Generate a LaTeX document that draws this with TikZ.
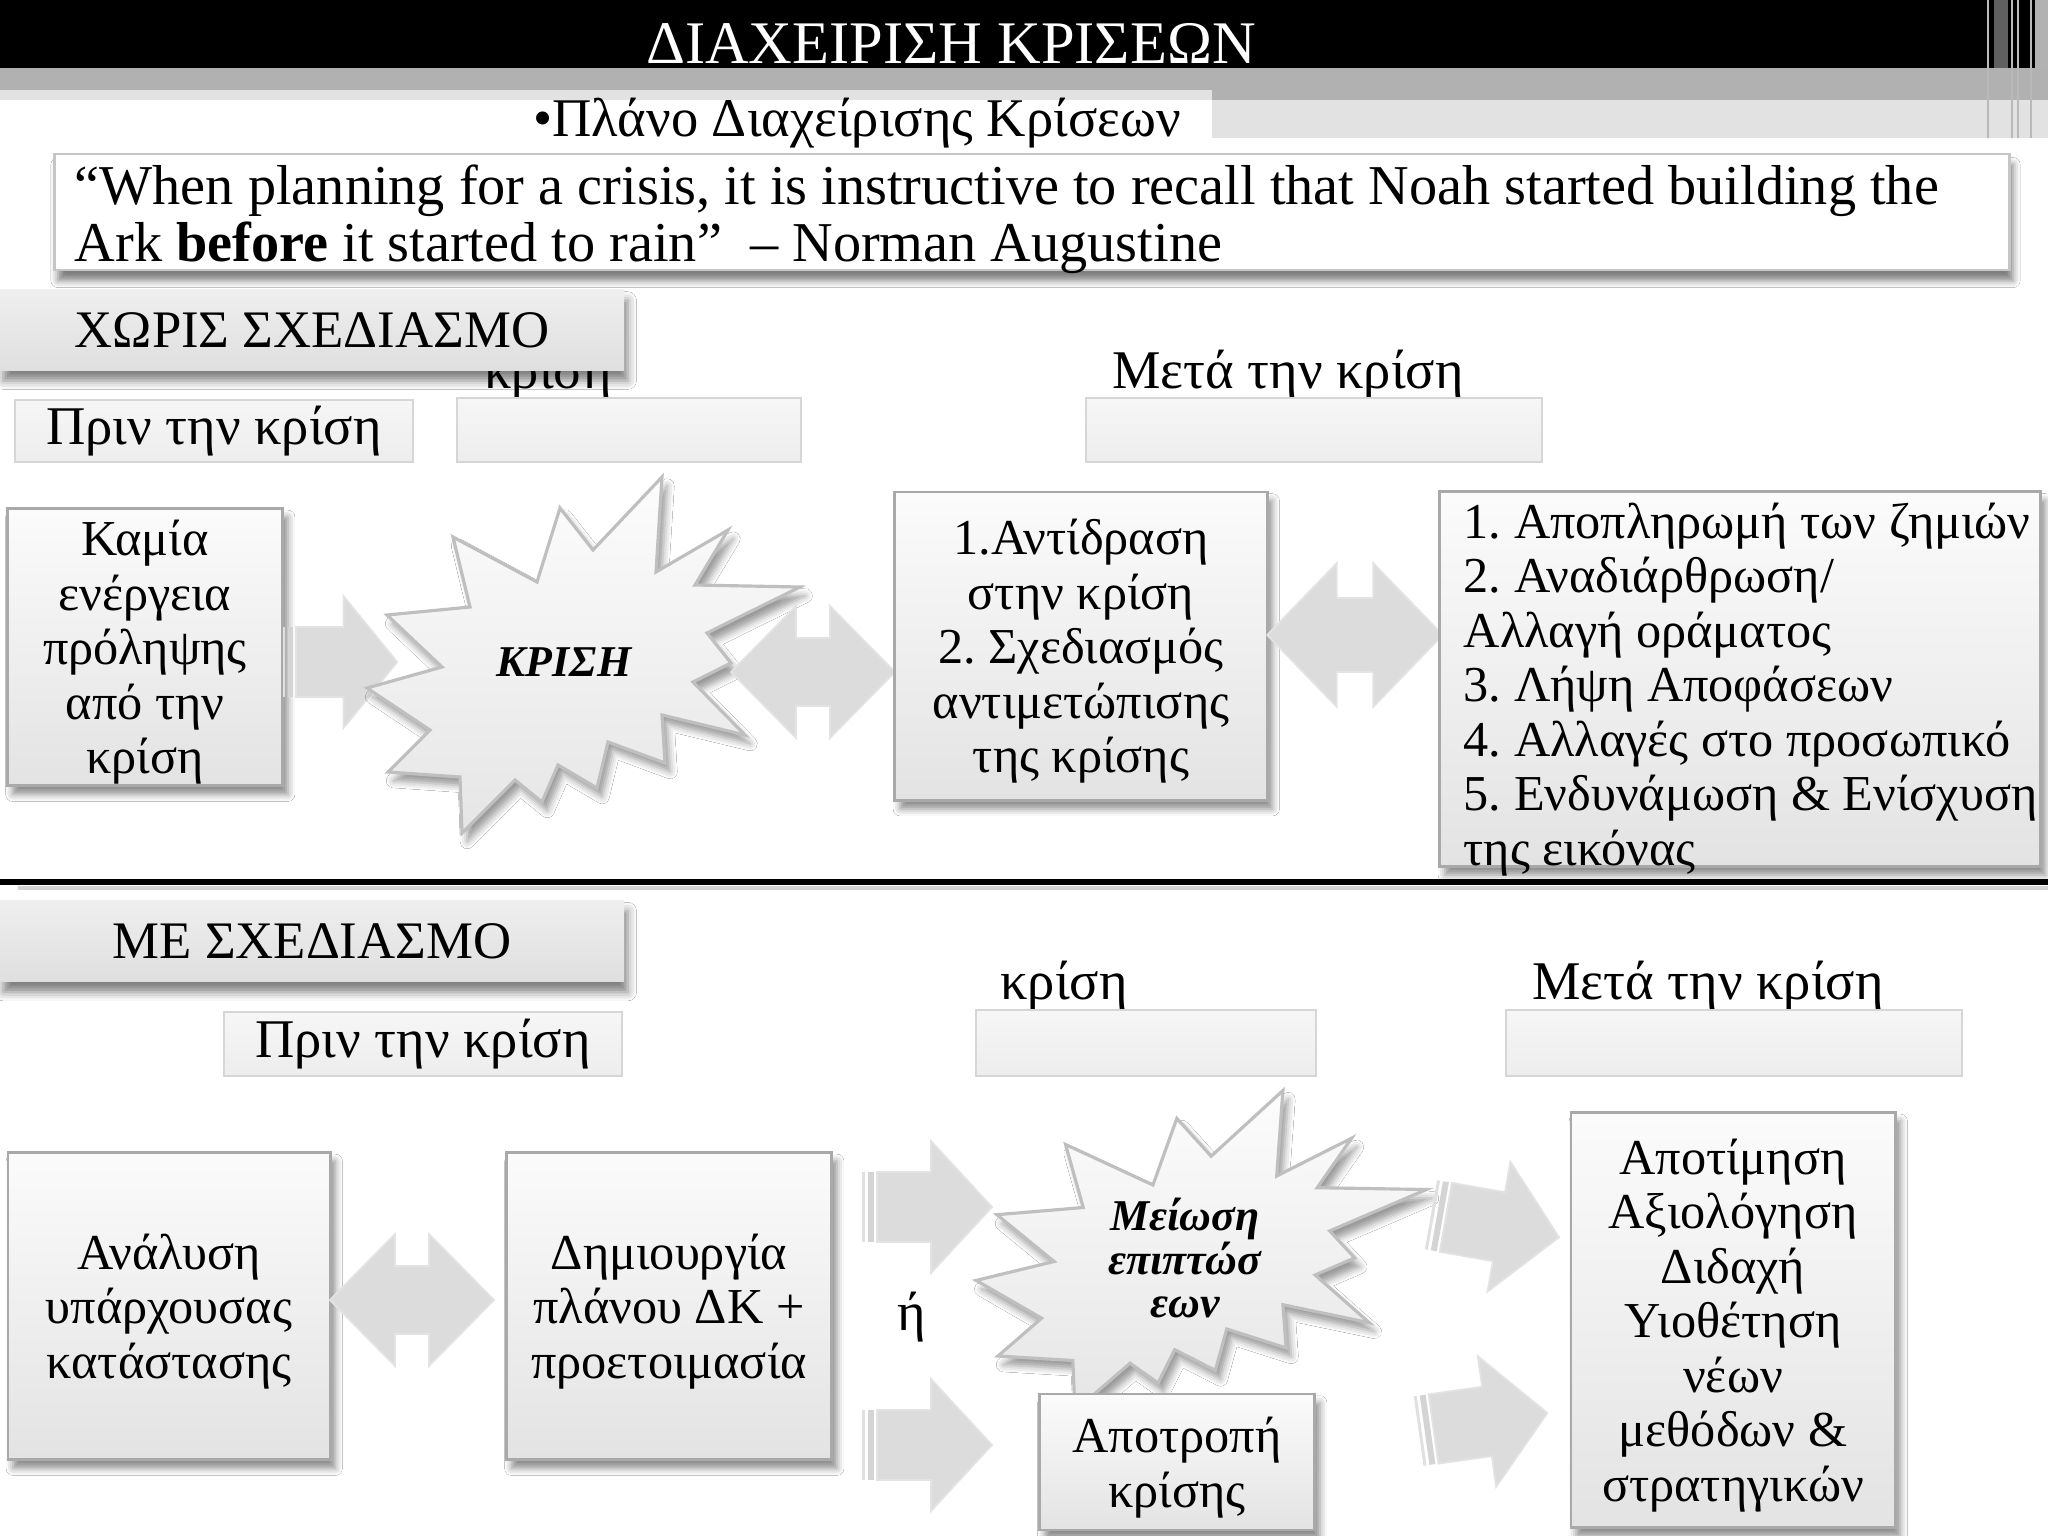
\documentclass[tikz,border=0pt]{standalone}
\usepackage{fontspec}
\setmainfont{Liberation Serif}
\usepackage{tikz}
\usetikzlibrary{positioning, calc, shadows.blur}
\frenchspacing

\definecolor{bandgray}{HTML}{B1B1B1}
\definecolor{bandlight}{HTML}{E2E2E2}
\definecolor{arrowgray}{HTML}{DCDCDC}
\definecolor{edgegray}{HTML}{A9A9A9}

\tikzset{
  stripedarrow/.pic={
    \fill[gray!24] (-65,-35) rectangle (-62,35);
    \fill[gray!34] (-59,-35) rectangle (-53,35);
    \path[fatarrow] (-50,-35) -- (4,-35) -- (4,-66) -- (65,0) -- (4,66) -- (4,35) -- (-50,35) -- cycle;
  },
  twinarrow/.pic={
    \path[fatarrow] (-82,0) -- (-17,-66) -- (-17,-34) -- (17,-34) -- (17,-66)
      -- (82,0) -- (17,66) -- (17,34) -- (-17,34) -- (-17,66) -- cycle;
  },
  burst/.pic={
    \path[burstline] (98,-185) -- (92,-90) -- (164,-132) -- (131,-77) -- (236,-75)
      -- (143,-29) -- (167,1) -- (129,20) -- (181,73) -- (98,53) -- (101,101)
      -- (44,80) -- (33,126) -- (-6,103) -- (-22,140) -- (-49,118) -- (-102,171)
      -- (-104,115) -- (-176,110) -- (-134,68) -- (-197,26) -- (-122,5)
      -- (-177,-47) -- (-94,-55) -- (-111,-125) -- (-27,-80) -- (-4,-154)
      -- (29,-112) -- cycle;
  },
}

\begin{document}
\begin{tikzpicture}[
  x=0.01cm, y=-0.01cm,
  every node/.style={font=\fontsize{15.5}{15.5}\selectfont},
  box/.style={draw=edgegray, line width=0.8pt, top color=gray!3, bottom color=gray!22,
    align=center, inner sep=0pt, text depth=0pt, font=\fontsize{14.3}{15.5}\selectfont,
    blur shadow={shadow xshift=1.5pt, shadow yshift=-2.5pt, shadow blur radius=2pt, shadow opacity=45}},
  slot/.style={draw=gray!32, line width=0.6pt, top color=gray!7, bottom color=gray!14, inner sep=0pt},
  header/.style={top color=gray!13, bottom color=gray!25, inner sep=0pt,
    font=\fontsize{15}{15}\selectfont,
    blur shadow={shadow xshift=1pt, shadow yshift=-3pt, shadow blur radius=2.5pt, shadow opacity=50}},
  burstline/.style={draw=gray!50, line width=0.9pt, top color=gray!2, bottom color=gray!20,
    blur shadow={shadow xshift=1.5pt, shadow yshift=-2.5pt, shadow blur radius=2pt, shadow opacity=40}},
  fatarrow/.style={fill=arrowgray, draw=gray!22, line width=0.5pt},
  stamp/.style={font=\fontsize{12.5}{12.5}\selectfont\bfseries\itshape, align=center},
  lines/.style={align=left, inner sep=0pt, font=\fontsize{14.3}{15.5}\selectfont},
]
  \useasboundingbox (0,0) rectangle (2048,1536);
  \fill[white] (0,0) rectangle (2048,1536);

  % title band
  \fill[black] (0,0) rectangle (2048,68);
  \fill[bandgray] (0,68) rectangle (2048,100);
  \fill[bandlight] (0,90) rectangle (1212,100);
  \fill[bandlight] (1212,100) rectangle (2048,138);
  \fill[gray!75!black] (1994,0) rectangle (2008,68);
  \fill[gray!60] (2035,0) rectangle (2048,68);
  \foreach \sx in {1988,2012,2018,2031}
    \draw[gray!55, line width=0.4pt] (\sx,0) -- (\sx,138);
  \node[font=\fontsize{17.2}{17.2}\selectfont, text=white, anchor=base] (title) at (951,63) {ΔΙΑΧΕΙΡΙΣΗ ΚΡΙΣΕΩΝ};
  \node[anchor=base] (plan) at (857,136) {•Πλάνο Διαχείρισης Κρίσεων};

  \node[draw=gray!45, line width=0.8pt, fill=white, minimum width=19.54cm, minimum height=1.16cm,
    blur shadow={shadow xshift=1pt, shadow yshift=-3pt, shadow blur radius=2pt, shadow opacity=50}]
    (quote) at (1032,212) {};
  \node[font=\fontsize{16}{16.2}\selectfont, align=left, anchor=north west, inner sep=0pt]
    (saying) at (74,164) {“When planning for a crisis, it is instructive to recall that Noah started building the\\
    Ark \textbf{before} it started to rain”\ \ – Norman Augustine};

  % without planning
  \node[anchor=base] (crisis1) at (548,388) {κρίση};
  \node[anchor=base] (after1) at (1288,388) {Μετά την κρίση};
  \node[header, minimum width=6.24cm, minimum height=0.80cm] (noplan) at (312,330) {ΧΩΡΙΣ ΣΧΕΔΙΑΣΜΟ};

  \node[slot, minimum width=3.97cm, minimum height=0.62cm] (before1) at (214,431) {Πριν την κρίση};
  \node[slot, minimum width=3.43cm, minimum height=0.64cm] (slot1) at (629,430) {};
  \node[slot, minimum width=4.55cm, minimum height=0.64cm] (slot2) at (1314,430) {};

  \node[box, minimum width=2.75cm, minimum height=2.77cm] (noaction) at (145,647)
    {Καμία\\ενέργεια\\πρόληψης\\από την\\κρίση};
  \pic[xscale=0.88] at (340,662) {stripedarrow};
  \pic at (564,662) {burst};
  \node[stamp] (crisis) at (564,662) {ΚΡΙΣΗ};
  \pic at (813,672) {twinarrow};
  \node[box, minimum width=3.72cm, minimum height=3.08cm] (response) at (1081,646)
    {1.Αντίδραση\\στην κρίση\\2. Σχεδιασμός\\αντιμετώπισης\\της κρίσης};
  \pic[xscale=1.07, yscale=1.09] at (1355,635) {twinarrow};
  \node[box, minimum width=6.0cm, minimum height=3.74cm] (recovery) at (1740,679) {};
  \node[lines, anchor=north west] (steps) at (1463,502)
    {1. Αποπληρωμή των ζημιών\\2. Αναδιάρθρωση/\\Αλλαγή οράματος\\3. Λήψη Αποφάσεων\\4. Αλλαγές στο προσωπικό\\5. Ενδυνάμωση \& Ενίσχυση\\της εικόνας};

  % separator
  \draw[gray!35, line width=1pt] (18,888) -- (2048,888);
  \draw[black, line width=1.6pt] (0,882) -- (2048,882);

  % with planning
  \node[header, minimum width=6.24cm, minimum height=0.81cm] (plan2) at (312,941) {ΜΕ ΣΧΕΔΙΑΣΜΟ};
  \node[anchor=base] (crisis2) at (1064,999) {κρίση};
  \node[anchor=base] (after2) at (1708,999) {Μετά την κρίση};
  \node[slot, minimum width=3.97cm, minimum height=0.64cm] (before2) at (423,1044) {Πριν την κρίση};
  \node[slot, minimum width=3.40cm, minimum height=0.66cm] (slot3) at (1146,1043) {};
  \node[slot, minimum width=4.56cm, minimum height=0.66cm] (slot4) at (1734,1043) {};

  \node[box, minimum width=3.22cm, minimum height=3.07cm] (analysis) at (169,1306)
    {Ανάλυση\\υπάρχουσας\\κατάστασης};
  \pic at (412,1300) {twinarrow};
  \node[box, minimum width=3.25cm, minimum height=3.07cm] (prepare) at (669,1306)
    {Δημιουργία\\πλάνου ΔΚ +\\προετοιμασία};
  \pic at (927,1207) {stripedarrow};
  \pic at (927,1445) {stripedarrow};
  \node[anchor=base] (either) at (912,1330) {ή};
  \pic[xscale=1.04, yscale=0.9] at (1181,1257) {burst};
  \node[stamp] (impact) at (1185,1258) {Μείωση\\επιπτώσ\\εων};
  \node[box, minimum width=2.75cm, minimum height=1.36cm] (avert) at (1177,1462)
    {Αποτροπή\\κρίσης};
  \pic[rotate=-10] at (1495,1226) {stripedarrow};
  \pic[rotate=8] at (1483,1422) {stripedarrow};
  \node[box, minimum width=3.24cm, minimum height=4.15cm] (lessons) at (1733,1320)
    {Αποτίμηση\\Αξιολόγηση\\Διδαχή\\Υιοθέτηση\\νέων\\μεθόδων \&\\στρατηγικών};
\end{tikzpicture}
\end{document}
